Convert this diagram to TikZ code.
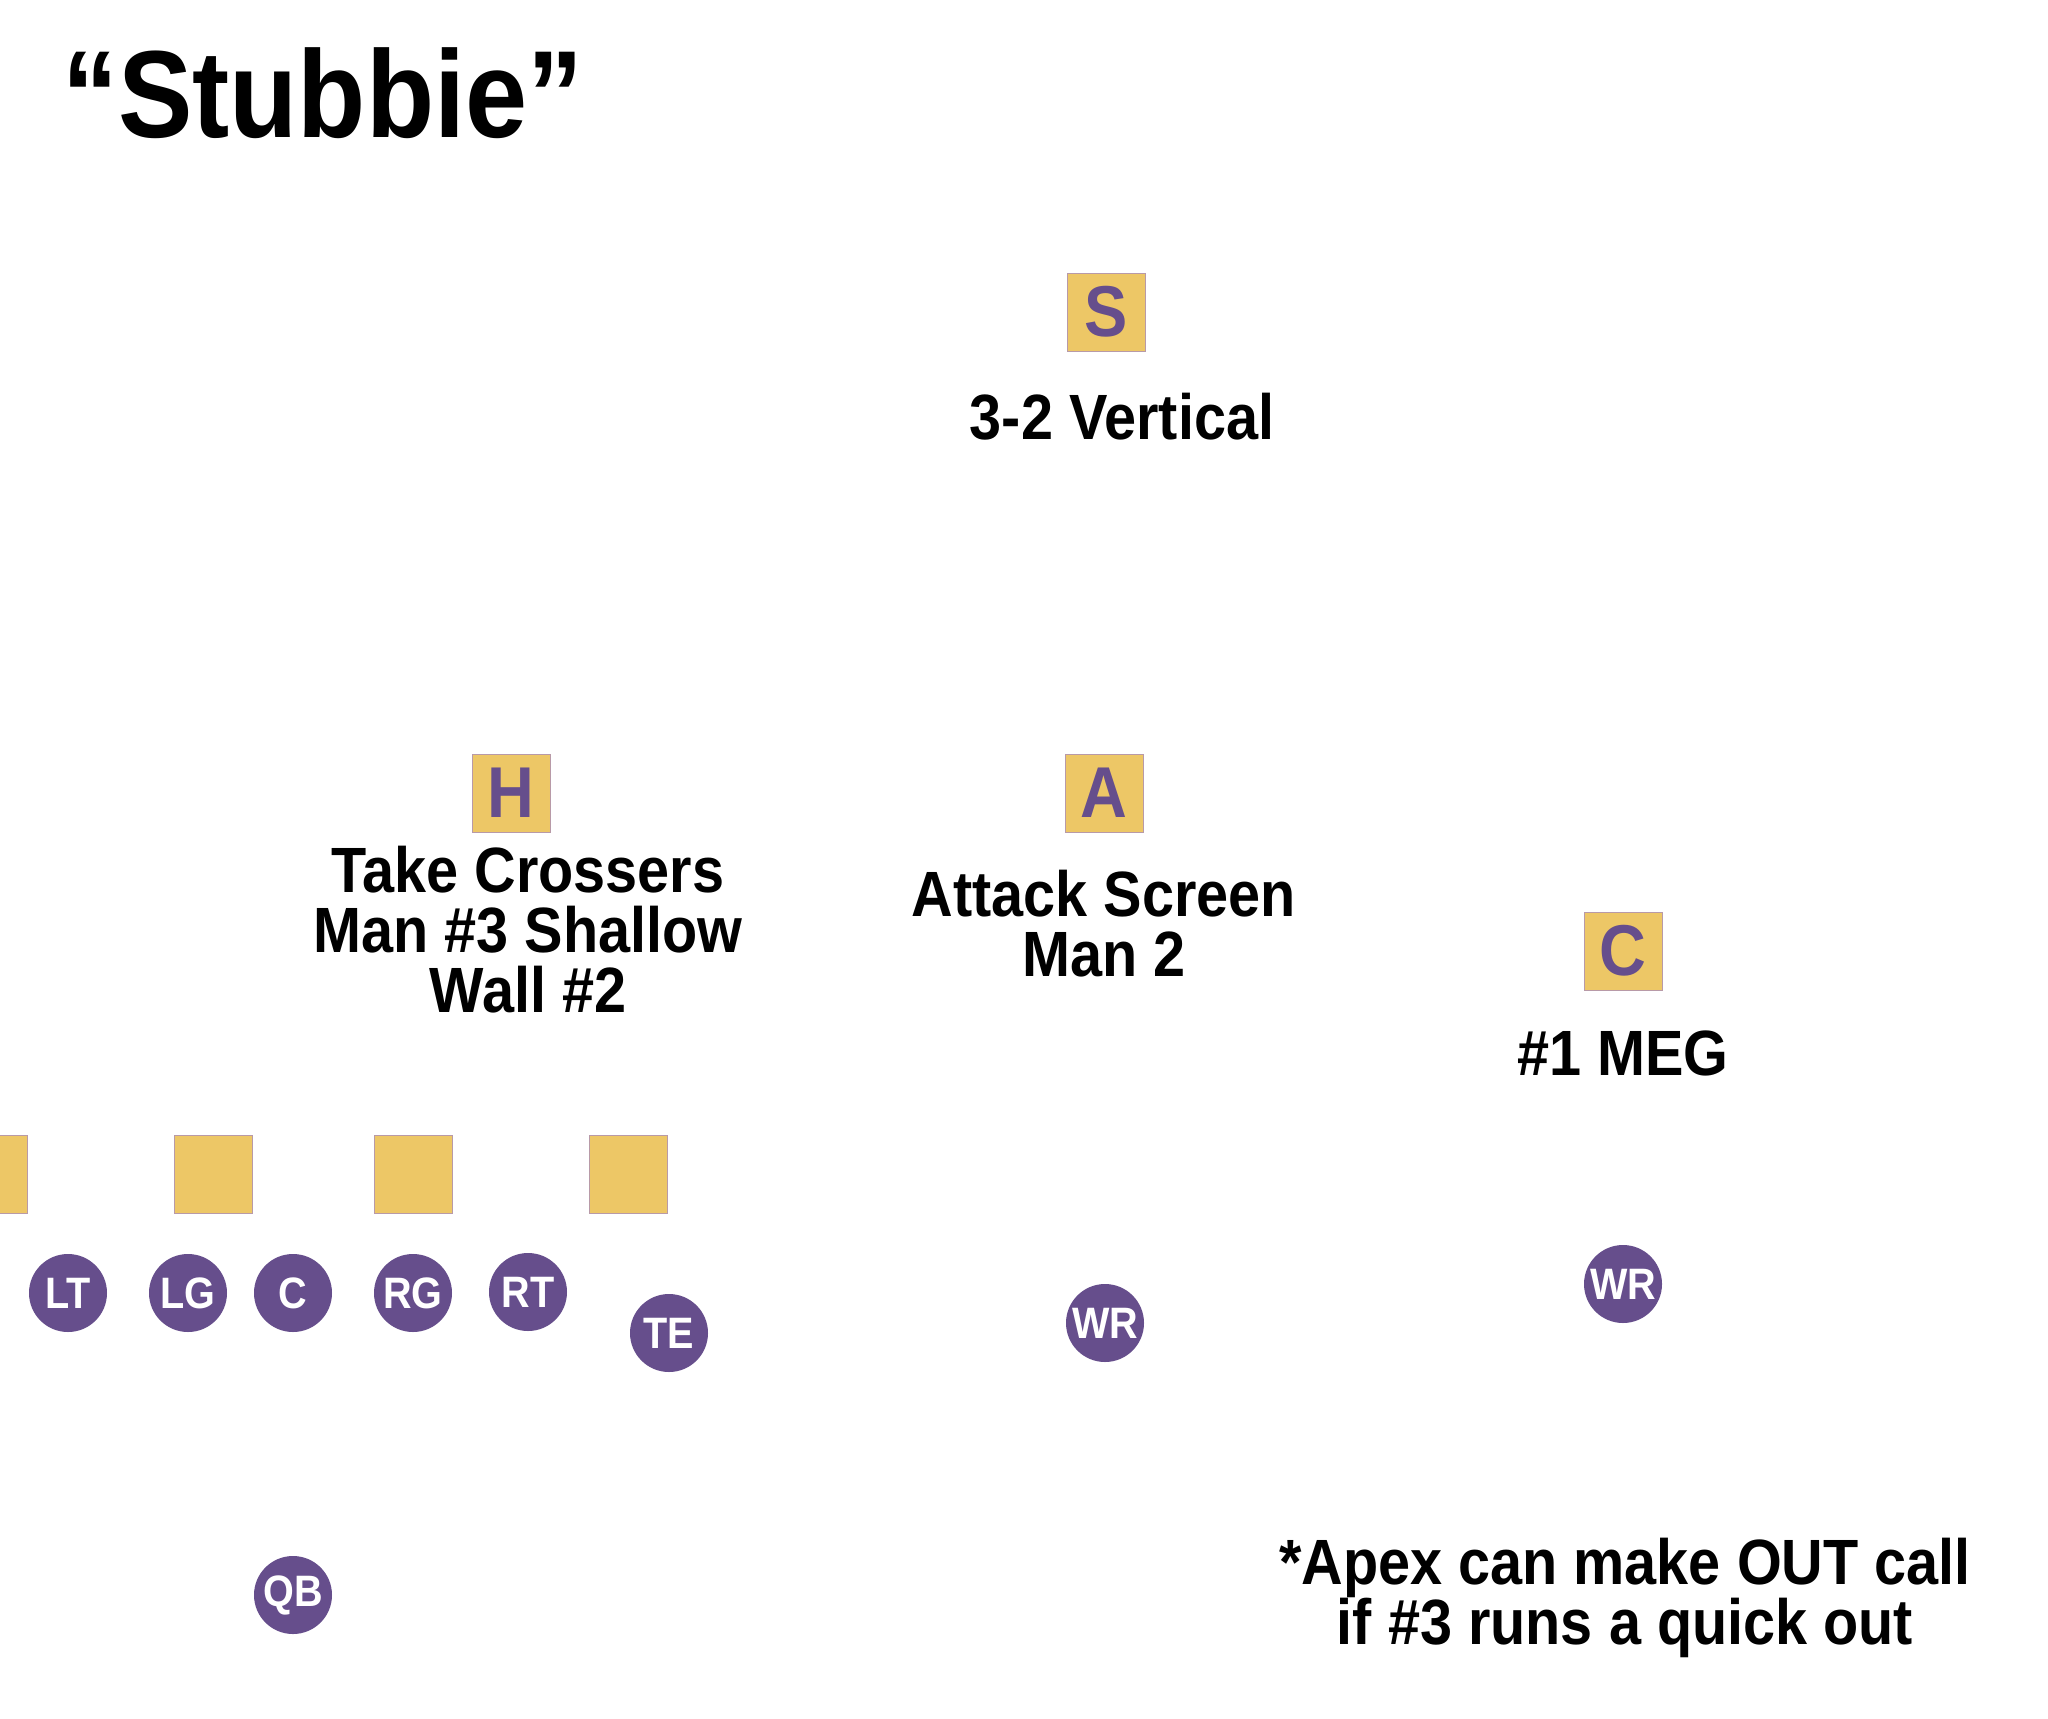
\documentclass[tikz,border=0pt]{standalone}
\usepackage{fontspec}
\setmainfont[FakeStretch=0.9]{Liberation Sans}
\usepackage{xcolor}
\usetikzlibrary{positioning}

\definecolor{gold}{HTML}{EDC766}
\definecolor{purple}{HTML}{664E8C}
\definecolor{edge}{HTML}{B89AA8}

\begin{document}
\begin{tikzpicture}[
    x=0.5pt, y=-0.5pt,
    defender/.style={rectangle, draw=edge, line width=0.5pt, fill=gold, minimum size=39pt, inner sep=0pt,
        text=purple, font=\fontsize{36}{36}\selectfont\bfseries},
    player/.style={circle, fill=purple, minimum size=39pt, inner sep=0pt,
        text=white, font=\fontsize{22}{22}\selectfont\bfseries},
    assign/.style={align=center, inner sep=0pt, font=\fontsize{32}{30}\selectfont\bfseries},
    node distance=20pt
]
    \clip (0,0) rectangle (2048,1718);
    \fill[white] (0,0) rectangle (2048,1718);

    \node[anchor=base west, inner sep=0pt, font=\fontsize{62}{62}\selectfont\bfseries] (title) at (62,137) {“Stubbie”};

    % defense
    \node[defender] (safety) at (1106,312) {S};
    \node[assign, below=20.5pt of safety, xshift=8pt] (safetytext) {3-2 Vertical};

    \node[defender] (hook) at (511,793) {H};
    \node[assign, below=6.5pt of hook, xshift=8.5pt] (hooktext) {Take Crossers\\Man \#3 Shallow\\Wall \#2};

    \node[defender] (apex) at (1104,793) {A};
    \node[assign, below=18.5pt of apex] (apextext) {Attack Screen\\Man 2};

    \node[defender] (corner) at (1623,951) {C};
    \node[assign, below=of corner] (cornertext) {\#1 MEG};

    \foreach \x [count=\i] in {-12,213,413,628}
        \node[defender] (dl\i) at (\x,1174) {};

    % offense
    \node[player] (lt) at (68,1293) {LT};
    \node[player] (lg) at (188,1293) {LG};
    \node[player] (c) at (293,1293) {C};
    \node[player] (rg) at (413,1293) {RG};
    \node[player] (rt) at (528,1292) {RT};
    \node[player] (te) at (669,1333) {TE};
    \node[player] (wrslot) at (1105,1323) {WR};
    \node[player] (wrwide) at (1623,1284) {WR};
    \node[player] (qb) at (293,1595) {QB};

    \node[assign] (note) at (1625,1598) {*Apex can make OUT call\\if \#3 runs a quick out};
\end{tikzpicture}
\end{document}
